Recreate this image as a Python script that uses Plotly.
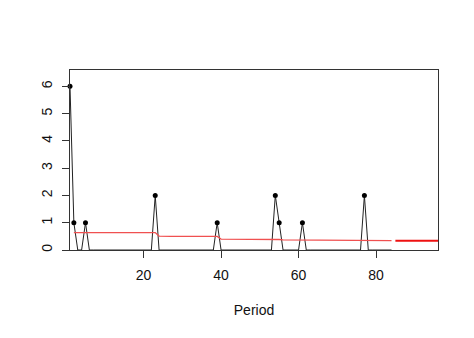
import plotly.graph_objects as go

# Observed counts per period
period = list(range(1, 85))
counts = [6, 1, 0, 0, 1, 0, 0, 0, 0, 0,
          0, 0, 0, 0, 0, 0, 0, 0, 0, 0,
          0, 0, 2, 0, 0, 0, 0, 0, 0, 0,
          0, 0, 0, 0, 0, 0, 0, 0, 1, 0,
          0, 0, 0, 0, 0, 0, 0, 0, 0, 0,
          0, 0, 0, 2, 1, 0, 0, 0, 0, 0,
          1, 0, 0, 0, 0, 0, 0, 0, 0, 0,
          0, 0, 0, 0, 0, 0, 2, 0, 0, 0,
          0, 0, 0, 0]

# Fitted demand rate (periods 2..84)
fit_period = list(range(2, 85))
fitted = [0.64, 0.64, 0.64, 0.64, 0.64, 0.64, 0.64, 0.64, 0.64, 0.64,
          0.64, 0.64, 0.64, 0.64, 0.64, 0.64, 0.64, 0.64, 0.64, 0.64,
          0.64, 0.64, 0.51, 0.50, 0.50, 0.50, 0.50, 0.50, 0.50, 0.50,
          0.50, 0.50, 0.50, 0.50, 0.50, 0.50, 0.50, 0.50, 0.40, 0.40,
          0.40, 0.40, 0.40, 0.40, 0.40, 0.40, 0.40, 0.40, 0.40, 0.40,
          0.40, 0.40, 0.40, 0.385, 0.37, 0.37, 0.37, 0.37, 0.37, 0.37,
          0.345, 0.345, 0.345, 0.345, 0.345, 0.345, 0.345, 0.345, 0.345, 0.345,
          0.345, 0.345, 0.345, 0.345, 0.345, 0.345, 0.345, 0.345, 0.345, 0.345,
          0.345, 0.345, 0.345]

# Out-of-sample forecast
fc_period = list(range(85, 97))
forecast = [0.34, 0.34, 0.34, 0.34, 0.34, 0.34, 0.34, 0.34, 0.34, 0.34, 0.34, 0.34]

nz_x = [p for p, c in zip(period, counts) if c > 0]
nz_y = [c for c in counts if c > 0]

fig = go.Figure()
fig.add_trace(go.Scatter(x=period, y=counts, mode="lines",
                         line=dict(color="#222222", width=1), cliponaxis=False))
fig.add_trace(go.Scatter(x=nz_x, y=nz_y, mode="markers",
                         marker=dict(color="black", size=5), cliponaxis=False))
fig.add_trace(go.Scatter(x=fit_period, y=fitted, mode="lines",
                         line=dict(color="#f05050", width=1.3)))
fig.add_trace(go.Scatter(x=fc_period, y=forecast, mode="lines",
                         line=dict(color="#ee1111", width=2)))

font = dict(family="Liberation Sans, Arial, sans-serif", size=14, color="#111111")
fig.update_layout(
    width=474, height=338,
    margin=dict(l=70, r=36, t=70, b=88),
    paper_bgcolor="white", plot_bgcolor="white",
    showlegend=False, font=font,
    xaxis=dict(range=[1, 96], tickvals=[20, 40, 60, 80], ticks="outside",
               ticklen=7, tickcolor="#333333", showline=True, mirror=True,
               linecolor="#333333", linewidth=1, showgrid=False, zeroline=False,
               ticklabelstandoff=5, tickfont=font,
               title=dict(text="Period", standoff=23, font=font)),
    yaxis=dict(range=[0, 6.6], tickvals=[0, 1, 2, 3, 4, 5, 6], ticks="outside",
               ticklen=7, tickcolor="#333333", tickangle=-90, showline=True,
               mirror=True, linecolor="#333333", linewidth=1, showgrid=False,
               zeroline=False, ticklabelstandoff=4, tickfont=font),
)

fig.write_html("out.html")
